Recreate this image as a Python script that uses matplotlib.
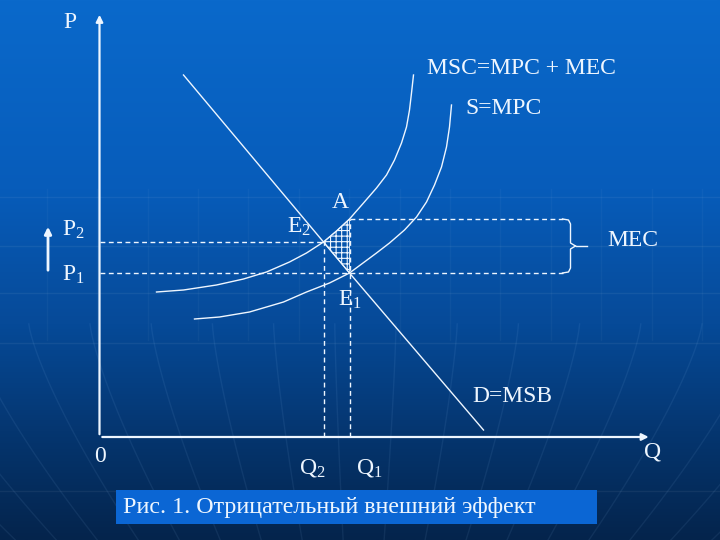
import numpy as np
import matplotlib
matplotlib.use('Agg')
import matplotlib.pyplot as plt
from matplotlib.patches import Polygon, Rectangle
from matplotlib.colors import LinearSegmentedColormap

plt.rcParams['font.family'] = ['Liberation Serif', 'DejaVu Serif']
plt.rcParams['mathtext.fontset'] = 'custom'
plt.rcParams['mathtext.rm'] = 'Liberation Serif'
plt.rcParams['mathtext.it'] = 'Liberation Serif:italic'
plt.rcParams['hatch.color'] = 'white'
plt.rcParams['hatch.linewidth'] = 0.8

# --- data (Q, P) ---
demand_q = [84, 224, 250, 384]
demand_p = [362, 195, 164, 7]

msc_q = [57, 84, 117, 144, 167, 190, 207, 224, 237, 250, 264, 277, 287, 295, 302, 307, 310, 312, 314]
msc_p = [145, 147, 152, 158, 165, 175, 184, 195, 206, 218, 234, 249, 262, 277, 294, 310, 327, 344, 362]

s_q = [95, 120, 150, 184, 207, 230, 250, 277, 290, 305, 317, 327, 335, 342, 347, 350, 352]
s_p = [118, 120, 125, 135, 145, 154, 164, 184, 194, 207, 220, 235, 252, 270, 290, 310, 332]

E2 = (224, 195)
E1 = (250, 164)
A = (250, 218)
q_axis_max = 552
p_axis_max = 425
brace_q = 471

fg = '#eef6ff'

fig = plt.figure(figsize=(7.2, 5.4), dpi=100)
ax = fig.add_axes([0, 0, 1, 1])
ax.set_xlim(-99.5, 620.5)
ax.set_ylim(-103, 437)
ax.axis('off')

# background gradient
cmap = LinearSegmentedColormap.from_list('bg', [(0.0, '#0a69cb'), (0.35, '#075cba'),
                                                (0.6, '#064a98'), (0.8, '#053670'),
                                                (1.0, '#04244c')])
grad = np.linspace(0, 1, 256).reshape(-1, 1)
ax.imshow(grad, cmap=cmap, extent=(-99.5, 620.5, -103, 437), aspect='auto', zorder=0)

# faint globe lines
for yy in [0.635, 0.545, 0.457, 0.365, 0.09]:
    ax.plot([0, 1], [yy, yy], transform=ax.transAxes, color='white', alpha=0.06, lw=1, zorder=1)
for xx in np.arange(0.065, 1.0, 0.07):
    ax.plot([xx, xx], [0.37, 0.65], transform=ax.transAxes, color='white', alpha=0.035, lw=1, zorder=1)
t = np.linspace(0, 1, 50)
for x0 in np.arange(-0.3, 1.35, 0.085):
    xs = x0 + (0.5 - x0) * 0.5 * t ** 1.3
    ys = 0.40 - 0.55 * t
    ax.plot(xs, ys, transform=ax.transAxes, color='#9fd0ff', alpha=0.08, lw=1, zorder=1)

ax.add_patch(Rectangle((16.5, -87), 481, 34, facecolor='#0b66d4', edgecolor='none', zorder=2))

lw = 1.0
dash = (0, (3.5, 2.5))

# axes
ax.annotate('', xy=(0, p_axis_max), xytext=(0, 0),
            arrowprops=dict(arrowstyle='-|>', color=fg, lw=1.6, mutation_scale=10), zorder=5)
ax.annotate('', xy=(q_axis_max, 0), xytext=(0, 0),
            arrowprops=dict(arrowstyle='-|>', color=fg, lw=1.6, mutation_scale=10), zorder=5)
ax.annotate('', xy=(-51.5, 213), xytext=(-51.5, 164),
            arrowprops=dict(arrowstyle='-|>', color=fg, lw=2.0, mutation_scale=10), zorder=5)

# curves
ax.plot(demand_q, demand_p, color=fg, lw=lw, zorder=4)
ax.plot(msc_q, msc_p, color=fg, lw=lw, zorder=4)
ax.plot(s_q, s_p, color=fg, lw=lw, zorder=4)

# dashed guides
ax.plot([0, E2[0]], [E2[1], E2[1]], color=fg, lw=lw, ls=dash, zorder=3)
ax.plot([0, brace_q - 8], [E1[1], E1[1]], color=fg, lw=lw, ls=dash, zorder=3)
ax.plot([A[0], brace_q - 8], [A[1], A[1]], color=fg, lw=lw, ls=dash, zorder=3)
ax.plot([E2[0], E2[0]], [0, E2[1]], color=fg, lw=lw, ls=dash, zorder=3)
ax.plot([A[0], A[0]], [0, A[1]], color=fg, lw=lw, ls=dash, zorder=3)

# brace
mid = (A[1] + E1[1]) / 2
ax.plot([brace_q - 8, brace_q - 2, brace_q, brace_q, brace_q + 5],
        [A[1], A[1] - 1, A[1] - 5, mid + 3, mid], color=fg, lw=lw, zorder=3)
ax.plot([brace_q - 8, brace_q - 2, brace_q, brace_q, brace_q + 5],
        [E1[1], E1[1] + 1, E1[1] + 5, mid - 3, mid], color=fg, lw=lw, zorder=3)
ax.plot([brace_q + 5, brace_q + 16], [mid, mid], color=fg, lw=lw, zorder=3)

# deadweight loss area
hq = [q for q in msc_q if E2[0] <= q <= A[0]]
hp = [p for q, p in zip(msc_q, msc_p) if E2[0] <= q <= A[0]]
ax.add_patch(Polygon(list(zip(hq, hp)) + [E1], closed=True, facecolor='none',
                     edgecolor=fg, lw=0.6, hatch='+++', zorder=3))

# labels
fs = 17
ax.text(-29.5, 415, 'P', color=fg, fontsize=fs, ha='center', va='center')
ax.text(327.5, 369, 'MSC=MPC + MEC', color=fg, fontsize=fs, ha='left', va='center')
ax.text(365.5, 329, 'S=MPC', color=fg, fontsize=fs, ha='left', va='center')
ax.text(240.5, 235, 'A', color=fg, fontsize=fs, ha='center', va='center')
ax.text(211, 210, r'E$_2$', color=fg, fontsize=fs, ha='right', va='center')
ax.text(238.5, 137, r'E$_1$', color=fg, fontsize=fs, ha='left', va='center')
ax.text(-37.5, 207, r'P$_2$', color=fg, fontsize=fs, ha='left', va='center')
ax.text(-37.5, 162, r'P$_1$', color=fg, fontsize=fs, ha='left', va='center')
ax.text(507.5, 197, 'MEC', color=fg, fontsize=fs, ha='left', va='center')
ax.text(372.5, 40, 'D=MSB', color=fg, fontsize=fs, ha='left', va='center')
ax.text(0.5, -20, '0', color=fg, fontsize=fs, ha='center', va='center')
ax.text(212.5, -31, r'Q$_2$', color=fg, fontsize=fs, ha='center', va='center')
ax.text(269.5, -31, r'Q$_1$', color=fg, fontsize=fs, ha='center', va='center')
ax.text(553.5, -15, 'Q', color=fg, fontsize=fs, ha='center', va='center')
ax.text(23.5, -71, 'Рис. 1. Отрицательный внешний эффект', color=fg, fontsize=17.3,
        ha='left', va='center', zorder=4)

fig.savefig('out.png', dpi=100)
